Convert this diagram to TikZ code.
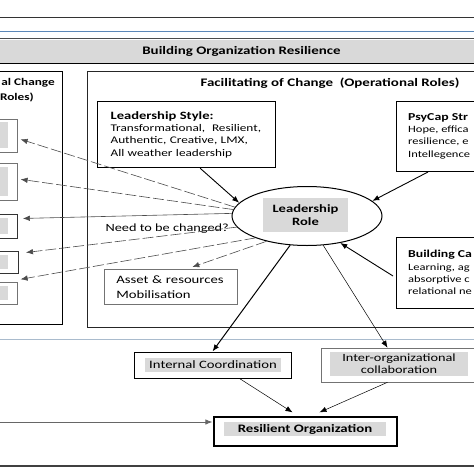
\documentclass[tikz,border=0pt]{standalone}
\usepackage{fontspec}
\setmainfont{Carlito}[FakeStretch=1.3]
\usetikzlibrary{arrows.meta,shapes.geometric,calc}
\definecolor{bandgray}{HTML}{D9D9D9}
\definecolor{topblue}{HTML}{5B87B8}
\definecolor{paleblue}{HTML}{A9BBCD}
\begin{document}
\begin{tikzpicture}[x=1pt,y=-1pt,
  box/.style={draw, line width=1pt, inner sep=0pt},
  thinbox/.style={draw=black!55, line width=0.6pt, inner sep=0pt},
  hl/.style={fill=bandgray, inner sep=0pt},
  tip/.style={-{Latex[length=7pt,width=5.5pt]}},
  dsh/.style={dash pattern=on 11pt off 3pt, line width=0.6pt, black!70},
  reg/.style={font=\fontsize{10.2}{12.3}\selectfont},
  sml/.style={font=\fontsize{9.6}{12.3}\selectfont},
  big/.style={font=\fontsize{11.3}{15}\selectfont},
  hd/.style={font=\bfseries\fontsize{11.2}{13.5}\selectfont}]
\clip (0,0) rectangle (474,474);
\fill[white] (0,0) rectangle (474,474);
% horizontal rules and band
\draw[black!80, line width=0.8pt] (0,17) -- (474,17);
\draw[topblue, line width=0.8pt] (0,31) -- (474,31);
\draw[black!70, line width=1.5pt] (0,38.5) -- (474,38.5);
\fill[bandgray] (0,40) rectangle (474,63);
\draw[black, line width=0.8pt] (0,63.5) -- (474,63.5);
\node[hd, font=\bfseries\fontsize{11.5}{13.5}\selectfont] (title) at (241.5,51.5) {Building Organization Resilience};
% frames
\draw[line width=0.9pt] (-5,71) rectangle (62.5,324);
\draw[line width=0.9pt, black!85] (87,71) rectangle (480,327);
\draw[paleblue, line width=1pt] (0,339) -- (474,339);
\draw[black!75, line width=1.2pt] (0,466) -- (474,466);
\node[hd, font=\bfseries\fontsize{10.2}{12}\selectfont, anchor=east, inner xsep=0pt] (lt1) at (55,83) {al Change};
\node[hd, font=\bfseries\fontsize{10.2}{12}\selectfont, anchor=east, inner xsep=0pt] (lt2) at (34,97.5) {Roles)};
\node[hd, font=\bfseries\fontsize{11.5}{13.5}\selectfont] (ftitle) at (330,83) {Facilitating of Change\ \ (Operational Roles)};
% left small boxes
\node[box, line width=0.6pt, draw=black!55, minimum width=22pt, minimum height=33pt, anchor=north west] (b1) at (-5,119) {};
\node[box, line width=0.6pt, draw=black!55, minimum width=22pt, minimum height=37pt, anchor=north west] (b2) at (-5,163) {};
\node[box, line width=0.9pt, draw=black!80, minimum width=22pt, minimum height=24pt, anchor=north west] (b3) at (-5,214) {};
\node[box, line width=1pt, draw=black!80, minimum width=23pt, minimum height=22pt, anchor=north west] (b4) at (-5,251) {};
\node[box, line width=0.6pt, draw=black!55, minimum width=22pt, minimum height=22pt, anchor=north west] (b5) at (-5,282) {};
\fill[bandgray] (0,122) rectangle (8,148);
\fill[bandgray] (0,167) rectangle (8,196);
\fill[bandgray] (0,218) rectangle (8,234);
\fill[bandgray] (0,255) rectangle (8,269);
\fill[bandgray] (0,286) rectangle (8,300);
% content boxes
\node[box, line width=1.2pt, anchor=north west, minimum width=178pt, minimum height=66pt,
      inner xsep=13pt, text width=152pt, align=left, reg] (ls) at (97,101)
  {{\bfseries\fontsize{11.2}{13}\selectfont Leadership Style:}\\Transformational,\ \ Resilient,\\Authentic, Creative, LMX,\\All weather leadership};
\node[box, line width=1pt, anchor=north west, minimum width=100pt, minimum height=70pt] (pc) at (396,101) {};
\node[sml, anchor=west, align=left, inner sep=0pt] (pct) at (408,136)
  {{\bfseries\fontsize{10.6}{12.5}\selectfont PsyCap Str}\\Hope, effica\\resilience, e\\Intellegence};
\node[box, line width=1pt, anchor=north west, minimum width=100pt, minimum height=71pt] (bc) at (396,237) {};
\node[sml, anchor=west, align=left, inner sep=0pt] (bct) at (408,272.5)
  {{\bfseries\fontsize{10.6}{12.8}\selectfont Building Ca}\\Learning, ag\\absorptive c\\relational ne};
\node[thinbox, anchor=north west, minimum width=133pt, minimum height=35pt,
      inner xsep=12pt, text width=109pt, align=left, big] (as) at (104,269)
  {Asset \& resources\\Mobilisation};
% ellipse
\node[draw, ellipse, line width=1pt, minimum width=150pt, minimum height=59pt, inner sep=0pt] (lr) at (307,216) {};
\node[hl, hd, minimum width=85pt, minimum height=34pt, align=center] (lrt) at (305.5,215) {Leadership\\Role};
\node[big, font=\fontsize{11}{13}\selectfont, anchor=base west] (need) at (102,231) {Need to be changed?};
% bottom boxes
\node[box, minimum width=157pt, minimum height=26pt] (ic) at (212.5,365) {};
\node[hl, big, minimum width=136pt, minimum height=14pt] (ict) at (213,365) {Internal Coordination};
\node[thinbox, minimum width=153pt, minimum height=34pt] (io) at (397.5,365) {};
\node[hl, font=\fontsize{11}{12}\selectfont, minimum width=138pt, minimum height=24pt, align=center] (iot) at (399,364) {Inter-organizational\\collaboration};
\node[box, line width=1.3pt, minimum width=183pt, minimum height=29pt] (ro) at (305.5,431.5) {};
\node[hl, hd, font=\bfseries\fontsize{11.4}{13}\selectfont, minimum width=162pt, minimum height=14pt] (rot) at (305,429) {Resilient Organization};
% connectors from the ellipse to the left boxes
\draw[dsh, tip] (lr.173) -- ([xshift=3pt, yshift=-3.5pt]b1.east);
\draw[dsh, tip] (lr.175) -- ([xshift=3pt, yshift=2.5pt]b2.east);
\draw[black!70, line width=0.6pt, tip] (lr.178) -- ([xshift=5pt, yshift=8pt]b3.east);
\draw[dsh, tip] (lr.189) -- ([xshift=7pt, yshift=10pt]b4.east);
\draw[dsh, tip] (lr.203) -- ([xshift=3pt, yshift=14pt]b5.east);
\draw[dsh, tip] (lr.212) -- ([xshift=21.5pt, yshift=2pt]as.north);
% connectors into the ellipse
\draw[tip, line width=0.9pt] ([xshift=13.5pt]ls.south) -- (lr.169);
\draw[tip, line width=0.9pt] ([xshift=32pt]pc.south west) -- (lr.13);
\draw[tip, line width=0.9pt] ([xshift=-3pt, yshift=-3pt]bc.west) -- (lr.321);
% connectors to the bottom
\draw[tip, line width=1pt] (lr.240) -- (ic.north);
\draw[tip, line width=0.5pt] (lr.299) -- ([xshift=-10pt]io.north);
\draw[tip, line width=0.5pt] ([xshift=27pt]ic.south) -- ([xshift=-13pt, yshift=4pt]ro.north);
\draw[tip, line width=0.5pt] ([xshift=-10pt]io.south) -- ([xshift=14pt, yshift=4pt]ro.north);
\coordinate (lin) at (0,422);
\draw[tip, black!60, line width=0.8pt] (lin) -- ([xshift=-1pt]lin -| ro.west);
\end{tikzpicture}
\end{document}
